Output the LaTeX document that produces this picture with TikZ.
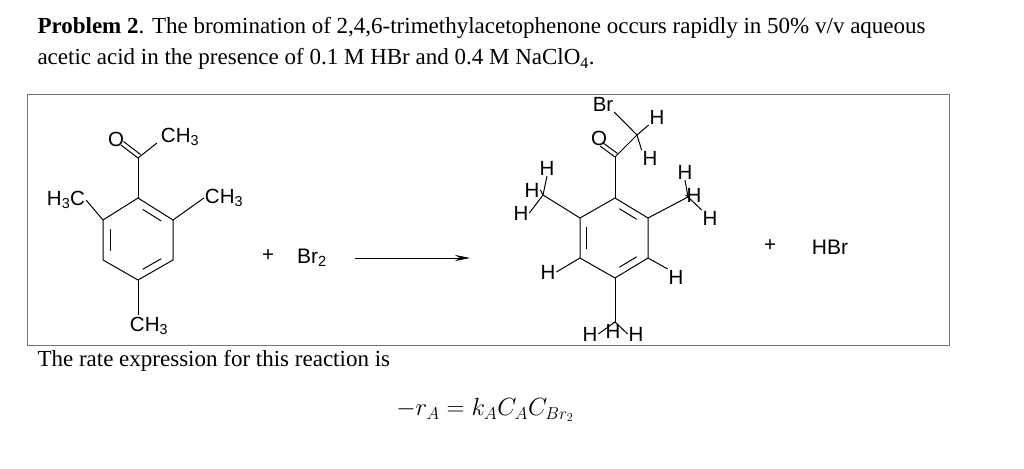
\documentclass[tikz,border=0pt]{standalone}
\usepackage{fontspec}
\setmainfont{Liberation Serif}
\newfontfamily\chem{Liberation Sans}
\usetikzlibrary{calc,arrows.meta}
\begin{document}
\begin{tikzpicture}[x=1pt,y=-1pt,line width=1pt,
  lab/.style={font=\chem\fontsize{20.5}{22}\selectfont,inner sep=0.5pt},
  txt/.style={font=\fontsize{23}{26}\selectfont,anchor=base west,inner sep=0}]
\useasboundingbox (0,0) rectangle (1024,468);
\node[txt] (t1) at (37,34) {\textbf{Problem 2}. The bromination of 2,4,6-trimethylacetophenone occurs rapidly in 50\% v/v aqueous};
\node[txt] (t2) at (37,65) {acetic acid in the presence of 0.1 M HBr and 0.4 M NaClO\textsubscript{4}.};
\draw[draw=black!55,line width=1pt] (27,95) rectangle (949,345);
\node[txt] (t3) at (37,366) {The rate expression for this reaction is};
\node[font=\fontsize{23}{26}\selectfont] (eq) at (485,410) {$-r_A = k_A C_A C_{Br_2}$};
% ---- reactant
\foreach \n/\x/\y in {a1/138/198,a2/173/220,a3/173/260,a4/138/280,a5/103/260,a6/103/220,ac/138/240,ak/138/158,ao/121/145}
  \coordinate (\n) at (\x,\y);
\draw (a1)--(a2)--(a3)--(a4)--(a5)--(a6)--cycle;
\foreach \p/\q in {a1/a2,a3/a4,a5/a6}
  \draw ($($(\p)!0.17!(\q)$)!0.2!(ac)$) -- ($($(\q)!0.17!(\p)$)!0.2!(ac)$);
\node[lab] (o1) at (116,139) {O};
\node[lab] (m1) at (180,137) {CH\textsubscript{3}};
\node[lab] (m2) at (66,200) {H\textsubscript{3}C};
\node[lab] (m3) at (224,198) {CH\textsubscript{3}};
\node[lab] (m4) at (149,326) {CH\textsubscript{3}};
\draw (a1)--(ak);
\draw (ak)--(ao);
\draw ($(ak)+(2.5,-3.5)$)--($(ao)+(2.5,-3.5)$);
\draw (ak)--(157,143);
\draw (a6)--(m2.east);
\draw (a2)--(m3.west);
\draw (a4)--(138,315);
\node[lab] (plus1) at (268,256) {+};
\node[lab,font=\chem\fontsize{21}{23}\selectfont] (br2) at (312,258) {Br\textsubscript{2}};
\coordinate (ar1) at (355,258); \coordinate (ar2) at (470,258);
\draw[-{Stealth[length=15pt,width=6pt]},line width=0.8pt] (ar1)--(ar2);
% ---- product
\foreach \n/\x/\y in {b1/615/198,b2/648/218,b3/648/258,b4/615/278,b5/580/258,b6/580/218,bc/614/238,bk/615/157,bo/600/146,bm/637/135,bl/543/195,br/688/197,bb/615/322}
  \coordinate (\n) at (\x,\y);
\draw (b1)--(b2)--(b3)--(b4)--(b5)--(b6)--cycle;
\foreach \p/\q in {b1/b2,b3/b4,b5/b6}
  \draw ($($(\p)!0.17!(\q)$)!0.2!(bc)$) -- ($($(\q)!0.17!(\p)$)!0.2!(bc)$);
\node[lab] (o2) at (599,138) {O};
\node[lab] (bbr) at (603,104) {Br};
\node[lab] (h1) at (657,117) {H};
\node[lab] (h2) at (650,158) {H};
\node[lab] (h3) at (547,168) {H};
\node[lab] (h4) at (532,190) {H};
\node[lab] (h5) at (521,213) {H};
\node[lab] (h6) at (685,172) {H};
\node[lab] (h7) at (694,195) {H};
\node[lab] (h8) at (710,218) {H};
\node[lab] (h9) at (548,272) {H};
\node[lab] (h10) at (676,277) {H};
\node[lab] (h11) at (590,334) {H};
\node[lab] (h12) at (613,331) {H};
\node[lab] (h13) at (636,334) {H};
\draw (b1)--(bk);
\draw (bk)--(bo);
\draw ($(bk)+(2.5,-3.5)$)--($(bo)+(2.5,-3.5)$);
\draw (bk)--(bm);
\draw (bm)--(bbr.south east);
\draw (bm)--(h1.south west);
\draw (bm)--(h2.north west);
\draw (b6)--(bl);
\draw (bl)--(h3.south);
\draw (bl)--(h4.east);
\draw (bl)--(h5.east);
\draw (b2)--(br);
\draw (br)--(h6.south);
\draw (br)--(h7.west);
\draw (br)--(h8.north west);
\draw (b5)--(h9.east);
\draw (b3)--(h10.north west);
\draw (b4)--(bb);
\draw (bb)--(h11.east);
\draw (bb)--(h12.north);
\draw (bb)--(h13.west);
\node[lab] (plus2) at (770,246) {+};
\node[lab,font=\chem\fontsize{21}{23}\selectfont] (hbr) at (830,247) {HBr};
\end{tikzpicture}
\end{document}
